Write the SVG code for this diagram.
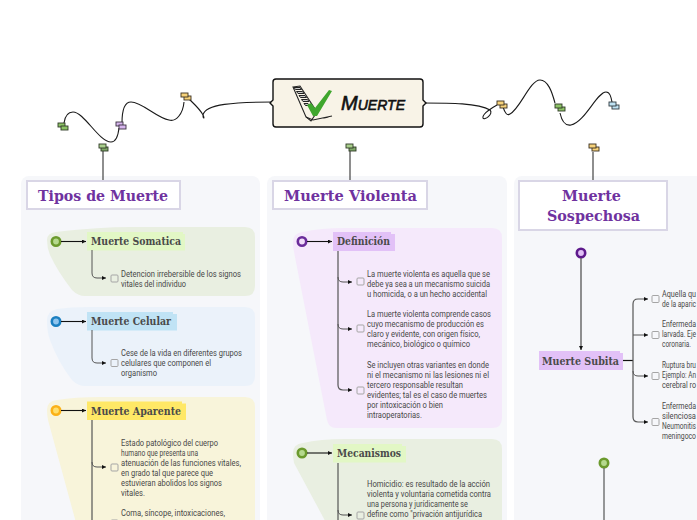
<svg xmlns="http://www.w3.org/2000/svg" width="697" height="520" viewBox="0 0 697 520">
<style>
.panel{fill:#f6f7fa}
.title{fill:#fff;stroke:#d9d6e6;stroke-width:2}
.ht{font-family:"DejaVu Serif",serif;font-weight:700;font-size:15px;fill:#6f329f}
.sub{font-family:"DejaVu Serif",serif;font-weight:700;font-size:10.5px;fill:#4a4a4a}
.t{font-family:Roboto,"Liberation Sans",sans-serif;font-size:9px;fill:#484848}
.cb{fill:none;stroke:#a5a5a5;stroke-width:1}
.curve{fill:none;stroke:#1a1a1a;stroke-width:1.1}
.conn{fill:none;stroke:#444;stroke-width:1.2}
.arrow{fill:none;stroke:#111;stroke-width:1.1;marker-end:url(#ah)}
.branch{fill:none;stroke:#555;stroke-width:1;marker-end:url(#ah)}
.trunk{fill:none;stroke:#555;stroke-width:1.2}
.g1{fill:#8cc266;stroke:#2f3a26;stroke-width:.9}
.g2{fill:#7fa868;stroke:#2f3a26;stroke-width:.9}
.g3{fill:#a9cf8c;stroke:#2f3a26;stroke-width:.9}
.p{fill:#d7b6ee;stroke:#3a3040;stroke-width:.9}
.y{fill:#f6d27a;stroke:#3a3020;stroke-width:.9}
.b{fill:#bfe2f3;stroke:#2f3a40;stroke-width:.9}
</style>
<defs>
<marker id="ah" markerWidth="5" markerHeight="5" refX="4" refY="2" orient="auto" markerUnits="userSpaceOnUse"><path d="M0 0L4 2L0 4Z" fill="#111"/></marker>
</defs>
<rect width="697" height="520" fill="#fff"/>
<g id="panels">
<rect class="panel" x="21" y="176" width="239" height="360" rx="8"/>
<rect class="panel" x="267" y="176" width="240" height="360" rx="8"/>
<rect class="panel" x="514" y="176" width="200" height="360" rx="8"/>
</g>
<g id="connectors">
<path class="curve" d="M273 102C235 102 205 104 203 115C203 119 205 119 203 115C200 109 193 103 188 98"/>
<path class="curve" d="M184 102C183 114 176 122 169 120C157 118 142 102 131 102C124 102 122 113 122 123"/>
<path class="curve" d="M119 128C118 137 115 142 111 142C99 142 84 112 73 112C68 112 65 116 64 123"/>
<path class="curve" d="M423 103C450 103 478 103 490 110C494 114 484 121 483 118C482 114 490 109 497 105"/>
<path class="curve" d="M503 107C505 113 507 116 510 114C520 109 530 80 540 80C548 80 552 92 555 103"/>
<path class="curve" d="M560 113C562 122 566 126 571 125C585 122 597 92 606 92C610 92 611 97 612 102"/>
<path class="conn" d="M103 150V181M350 150V181M593 152V181"/>
</g>
<g id="markers">
<rect class="g1" x="58" y="123" width="7" height="4"/><rect class="g1" x="61" y="126" width="7" height="4"/>
<rect class="p" x="116" y="122" width="7" height="4"/><rect class="p" x="119" y="125" width="7" height="4"/>
<rect class="g2" x="101" y="147" width="7" height="4"/><rect class="g3" x="99" y="144" width="7" height="4"/>
<rect class="y" x="184" y="96" width="7" height="4"/><rect class="y" x="181" y="93" width="7" height="4"/>
<rect class="g2" x="349" y="147" width="7" height="4"/><rect class="g3" x="346" y="144" width="7" height="4"/>
<rect class="y" x="500" y="104" width="7" height="4"/><rect class="y" x="497" y="101" width="7" height="4"/>
<rect class="g1" x="558" y="107" width="7" height="4"/><rect class="g1" x="555" y="104" width="7" height="4"/>
<rect class="b" x="612" y="105" width="7" height="4"/><rect class="b" x="609" y="102" width="7" height="4"/>
<rect class="y" x="592" y="147" width="7" height="4"/><rect class="y" x="589" y="144" width="7" height="4"/>
</g>
<g id="central">
<path d="M276 79H420Q423 79 423 82V100L426 103L423 106V124Q423 127 420 127H276Q273 127 273 124V106L270 103L273 100V82Q273 79 276 79Z" fill="#f8f3e7" stroke="#111" stroke-width="1.4"/>
<path d="M293 87L300 86L317 112L311 121L306 117Z" fill="none" stroke="#222" stroke-width="1.100"/>
<path d="M294 87.500h6l1.500 2h-6zM296.500 91.500h6l1.500 2h-6zM299 95.500h6l1.500 2h-6zM301.500 99.500h6l1.500 2h-6zM304 103.500h4l1.500 2h-4z" fill="#ccc" stroke="#222" stroke-width="1"/>
<path d="M306 117L313 120L332 116M324 118L329 117" fill="none" stroke="#222" stroke-width="1.100"/>
<path d="M307 105L311 103L315 108L329 90L332 91L317 116L313 116Z" fill="#3fa62d"/>
<text x="341" y="110" font-family="Liberation Sans,sans-serif" font-size="20" font-style="italic" stroke="#111" stroke-width=".6" style="font-variant:small-caps" textLength="64" lengthAdjust="spacingAndGlyphs" fill="#111">Muerte</text>
</g>
<g id="tipos">
<rect class="title" x="27" y="181" width="153" height="28"/>
<text class="ht" x="38" y="201" textLength="130" lengthAdjust="spacingAndGlyphs">Tipos de Muerte</text>
</g>
<g id="violenta">
<rect class="title" x="273" y="181" width="154" height="28"/>
<text class="ht" x="284" y="201" textLength="133" lengthAdjust="spacingAndGlyphs">Muerte Violenta</text>
</g>
<g id="sospechosa">
<rect class="title" x="519" y="181" width="148" height="49"/>
<text class="ht" x="562" y="201" textLength="59" lengthAdjust="spacingAndGlyphs">Muerte</text>
<text class="ht" x="547" y="221" textLength="93" lengthAdjust="spacingAndGlyphs">Sospechosa</text>
</g>
<g id="somatica">
<path d="M47 240Q47 233 56 232Q100 227 130 227H245Q255 227 255 237V286Q255 296 245 296H85Q78 296 72 290Q58 272 50 255Q47 248 47 240Z" fill="#e9efe1"/>
<circle cx="56" cy="241.500" r="4.200" fill="#b5d98d" stroke="#6b9a2d" stroke-width="2.600"/>
<path class="arrow" d="M61 241.500H86"/>
<path d="M87 232H183V234H185V250.500H87Z" fill="#e2f7c5"/>
<text class="sub" x="91" y="245" textLength="90" lengthAdjust="spacingAndGlyphs">Muerte Somatica</text>
<path class="branch" d="M92 250V273Q92 278 97 278H106"/>
<rect class="cb" x="111" y="275" width="7" height="7" rx="1"/>
<text class="t" x="121" y="277" textLength="120" lengthAdjust="spacingAndGlyphs">Detencion irrebersible de los signos</text>
<text class="t" x="121" y="287" textLength="65" lengthAdjust="spacingAndGlyphs">vitales del individuo</text>
</g>
<g id="celular">
<path d="M47 321Q47 311 57 309Q70 307 90 307H245Q255 307 255 317V376Q255 386 245 386H85Q78 386 72 380Q58 362 50 340Q47 332 47 321Z" fill="#ebf2fa"/>
<circle cx="56" cy="321.500" r="4.200" fill="#8fc5ee" stroke="#1a7fc1" stroke-width="2.600"/>
<path class="arrow" d="M61 321.500H86"/>
<path d="M87 312H173V314H177V330.500H87Z" fill="#c0e3f5"/>
<text class="sub" x="91" y="325" textLength="80" lengthAdjust="spacingAndGlyphs">Muerte Celular</text>
<path class="branch" d="M92 330V358Q92 363 97 363H106"/>
<rect class="cb" x="111" y="359.500" width="7" height="7" rx="1"/>
<text class="t" x="121" y="356" textLength="121" lengthAdjust="spacingAndGlyphs">Cese de la vida en diferentes grupos</text>
<text class="t" x="121" y="366" textLength="90" lengthAdjust="spacingAndGlyphs">celulares que componen el</text>
<text class="t" x="121" y="376" textLength="36" lengthAdjust="spacingAndGlyphs">organismo</text>
</g>
<g id="aparente">
<path d="M47 410Q47 401 57 400Q75 397 100 397H245Q255 397 255 407V530H78L48 420Q47 415 47 410Z" fill="#f8f4da"/>
<circle cx="56" cy="410.500" r="4.200" fill="#ffdf6b" stroke="#fbb116" stroke-width="2.600"/>
<path class="arrow" d="M61 410.500H86"/>
<path d="M87 401.500H182V403.500H186V420H87Z" fill="#ffe866"/>
<text class="sub" x="91" y="414.500" textLength="90" lengthAdjust="spacingAndGlyphs">Muerte Aparente</text>
<path class="trunk" d="M92 420V525"/>
<path class="branch" d="M92 462Q92 467 97 467H106"/>
<rect class="cb" x="111" y="464" width="7" height="7" rx="1"/>
<rect class="cb" x="111" y="520" width="7" height="7" rx="1"/>
<text class="t" x="121" y="446" textLength="97" lengthAdjust="spacingAndGlyphs">Estado patológico del cuerpo</text>
<text class="t" x="121" y="456" textLength="77" lengthAdjust="spacingAndGlyphs">humano que presenta una</text>
<text class="t" x="121" y="466" textLength="120" lengthAdjust="spacingAndGlyphs">atenuación de las funciones vitales,</text>
<text class="t" x="121" y="476" textLength="92" lengthAdjust="spacingAndGlyphs">en grado tal que parece que</text>
<text class="t" x="121" y="486" textLength="101" lengthAdjust="spacingAndGlyphs">estuvieran abolidos los signos</text>
<text class="t" x="121" y="496" textLength="24" lengthAdjust="spacingAndGlyphs">vitales.</text>
<text class="t" x="121" y="516" textLength="104" lengthAdjust="spacingAndGlyphs">Coma, síncope, intoxicaciones,</text>
</g>
<g id="definicion">
<path d="M293 242Q293 233 303 232Q320 228 345 228H492Q502 228 502 238V418Q502 428 492 428H336Q329 428 327 420L294 252Q293 247 293 242Z" fill="#f5e9fb"/>
<circle cx="302" cy="241.500" r="4.200" fill="#f0dcf8" stroke="#6a2c9a" stroke-width="2.600"/>
<path class="arrow" d="M307 241.500H332"/>
<path d="M333 232H391V234H395V251H333Z" fill="#e2c1f7"/>
<text class="sub" x="337" y="245" textLength="53" lengthAdjust="spacingAndGlyphs">Definición</text>
<path class="trunk" d="M338 251V385Q338 390 343 390"/>
<path class="branch" d="M338 277Q338 282 343 282H352"/>
<path class="branch" d="M338 324Q338 329 343 329H352"/>
<path class="branch" d="M343 390H352"/>
<rect class="cb" x="357" y="278" width="7" height="7" rx="1"/>
<rect class="cb" x="357" y="325" width="7" height="7" rx="1"/>
<rect class="cb" x="357" y="387" width="7" height="7" rx="1"/>
<text class="t" x="367" y="277" textLength="123" lengthAdjust="spacingAndGlyphs">La muerte violenta es aquella que se</text>
<text class="t" x="367" y="287" textLength="123" lengthAdjust="spacingAndGlyphs">debe ya sea a un mecanismo suicida</text>
<text class="t" x="367" y="297" textLength="120" lengthAdjust="spacingAndGlyphs">u homicida, o a un hecho accidental</text>
<text class="t" x="367" y="317" textLength="124" lengthAdjust="spacingAndGlyphs">La muerte violenta comprende casos</text>
<text class="t" x="367" y="327" textLength="117" lengthAdjust="spacingAndGlyphs">cuyo mecanismo de producción es</text>
<text class="t" x="367" y="337" textLength="113" lengthAdjust="spacingAndGlyphs">claro y evidente, con origen físico,</text>
<text class="t" x="367" y="347" textLength="103" lengthAdjust="spacingAndGlyphs">mecánico, biológico o químico</text>
<text class="t" x="367" y="368" textLength="122" lengthAdjust="spacingAndGlyphs">Se incluyen otras variantes en donde</text>
<text class="t" x="367" y="378" textLength="122" lengthAdjust="spacingAndGlyphs">ni el mecanismo ni las lesiones ni el</text>
<text class="t" x="367" y="388" textLength="96" lengthAdjust="spacingAndGlyphs">tercero responsable resultan</text>
<text class="t" x="367" y="398" textLength="120" lengthAdjust="spacingAndGlyphs">evidentes; tal es el caso de muertes</text>
<text class="t" x="367" y="408" textLength="76" lengthAdjust="spacingAndGlyphs">por intoxicación o bien</text>
<text class="t" x="367" y="418" textLength="55" lengthAdjust="spacingAndGlyphs">intraoperatorias.</text>
</g>
<g id="mecanismos">
<path d="M293 453Q293 444 303 443Q320 439 345 439H492Q502 439 502 449V530H330L294 463Q293 458 293 453Z" fill="#e9efe1"/>
<circle cx="302" cy="453" r="4.200" fill="#b5d98d" stroke="#6b9a2d" stroke-width="2.600"/>
<path class="arrow" d="M307 453H332"/>
<path d="M333 444H402V446H406V462.500H333Z" fill="#e2f7c5"/>
<text class="sub" x="337" y="457" textLength="64" lengthAdjust="spacingAndGlyphs">Mecanismos</text>
<path class="trunk" d="M338 463V525"/>
<path class="branch" d="M338 510Q338 515 343 515H352"/>
<rect class="cb" x="357" y="512" width="7" height="7" rx="1"/>
<text class="t" x="367" y="487" textLength="123" lengthAdjust="spacingAndGlyphs">Homicidio: es resultado de la acción</text>
<text class="t" x="367" y="497" textLength="124" lengthAdjust="spacingAndGlyphs">violenta y voluntaria cometida contra</text>
<text class="t" x="367" y="507" textLength="101" lengthAdjust="spacingAndGlyphs">una persona y jurídicamente se</text>
<text class="t" x="367" y="517" textLength="115" lengthAdjust="spacingAndGlyphs">define como "privación antijurídica</text>
</g>
<g id="subita">
<circle cx="581" cy="253" r="4.200" fill="#e2c1f7" stroke="#5e1a8c" stroke-width="2.600"/>
<path class="arrow" d="M581 258V350" style="stroke:#555;stroke-width:1.300"/>
<path d="M539 351H620V353H623V370H539Z" fill="#e2c1f7"/>
<text class="sub" x="542" y="365" textLength="77" lengthAdjust="spacingAndGlyphs">Muerte Subita</text>
<path d="M623 360.500H633" fill="none" stroke="#111" stroke-width="1.200"/>
<path class="trunk" d="M633 304Q633 299 638 299M633 304V417Q633 422 638 422"/>
<path class="branch" d="M638 299H648"/>
<path class="branch" d="M633 335H648"/>
<path class="branch" d="M633 371Q633 376 638 376H648"/>
<path class="branch" d="M638 422H648"/>
<rect class="cb" x="652" y="295.500" width="7" height="7" rx="1"/>
<rect class="cb" x="652" y="331.500" width="7" height="7" rx="1"/>
<rect class="cb" x="652" y="372.500" width="7" height="7" rx="1"/>
<rect class="cb" x="652" y="418.500" width="7" height="7" rx="1"/>
<text class="t" x="662" y="297" textLength="34" lengthAdjust="spacingAndGlyphs">Aquella qu</text>
<text class="t" x="662" y="307" textLength="34" lengthAdjust="spacingAndGlyphs">de la aparic</text>
<text class="t" x="662" y="327" textLength="34" lengthAdjust="spacingAndGlyphs">Enfermeda</text>
<text class="t" x="662" y="337" textLength="34" lengthAdjust="spacingAndGlyphs">larvada. Eje</text>
<text class="t" x="662" y="347" textLength="29" lengthAdjust="spacingAndGlyphs">coronaria.</text>
<text class="t" x="662" y="368" textLength="34" lengthAdjust="spacingAndGlyphs">Ruptura bru</text>
<text class="t" x="662" y="378" textLength="34" lengthAdjust="spacingAndGlyphs">Ejemplo: An</text>
<text class="t" x="662" y="388" textLength="34" lengthAdjust="spacingAndGlyphs">cerebral ro</text>
<text class="t" x="662" y="409" textLength="34" lengthAdjust="spacingAndGlyphs">Enfermeda</text>
<text class="t" x="662" y="419" textLength="34" lengthAdjust="spacingAndGlyphs">silenciosa</text>
<text class="t" x="662" y="429" textLength="34" lengthAdjust="spacingAndGlyphs">Neumonitis</text>
<text class="t" x="662" y="439" textLength="34" lengthAdjust="spacingAndGlyphs">meningoco</text>
</g>
<g id="otra">
<circle cx="604" cy="463" r="4.200" fill="#b5d98d" stroke="#6b9a2d" stroke-width="2.600"/>
<path class="trunk" d="M604 468V525"/>
</g>
</svg>
